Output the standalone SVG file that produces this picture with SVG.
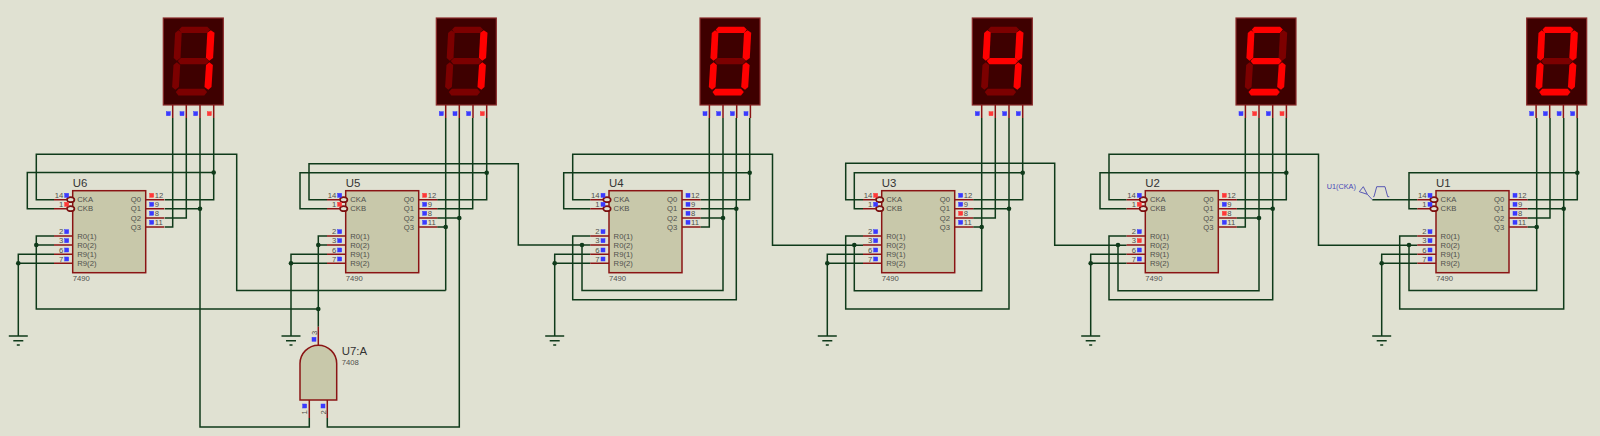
<svg xmlns="http://www.w3.org/2000/svg" width="1600" height="436" viewBox="0 0 1600 436">
<style>
text{font-family:"Liberation Sans",Arial,sans-serif;fill:#50504c}
.n{font-size:7.7px}
.e{text-anchor:end}
.l{font-size:11.4px;fill:#333}
.w{fill:none;stroke:#0f3a1a;stroke-width:1.5}
.j{fill:#0f3a1a}
.p{fill:none;stroke:#8a1414;stroke-width:1.5}
.b{fill:#c8c8aa;stroke:#8a1414;stroke-width:1.5}
.hi{fill:#ff3838;stroke:#ff3838;stroke-width:.5}
.lo{fill:#3a3aff;stroke:#3a3aff;stroke-width:.5}
.on{fill:#ff0000}
.of{fill:#7c0000}
.g{fill:none;stroke:#0f3a1a;stroke-width:1.5}
.gen{fill:none;stroke:#4a4ab0;stroke-width:.9}
</style>
<defs>
<g id="chip">
<path class="p" d="M-18.7 199.7H-6M-18.7 208.7H-6M-18.7 236H0M-18.7 245H0M-18.7 254.3H0M-18.7 263.3H0M73 199.7H91.5M73 208.7H91.5M73 218H91.5M73 227H91.5"/>
<rect class="b" x="0" y="190.7" width="73" height="82"/>
<ellipse cx="-2" cy="199.7" rx="3.7" ry="2.5" fill="#e0e1d2" stroke="#7a1010" stroke-width="1.7"/>
<ellipse cx="-2" cy="208.7" rx="3.7" ry="2.5" fill="#e0e1d2" stroke="#7a1010" stroke-width="1.7"/>
</g>
<g id="dbody">
<rect x="0" y="0" width="60" height="87" fill="#3e0000" stroke="#8a2a2a" stroke-width="1.2"/>
<path class="p" d="M9.4 87V100M23 87V100M36.7 87V100M50.4 87V100"/>
</g>
<polygon id="a" points="15.8,11.5 18.5,8.8 44,8.8 46.8,11.5 44,15 18,15"/>
<polygon id="g" points="14.5,43 17.5,40 43,40 45.8,43 43,46.2 17,46.2"/>
<polygon id="d" points="12.5,74 15.5,70.8 41,70.8 43.8,74 41,77.4 15,77.4"/>
<polygon id="f" points="11.8,15 15,12.2 18.4,14.5 17.2,40 13.5,42.8 10.4,40"/>
<polygon id="b" points="44,14.8 47.5,12.2 51.2,14.8 49.8,40 46,42.8 42.6,40"/>
<polygon id="e" points="10.2,47 13.5,44.2 16.9,47 15.6,69 12,71.8 8.8,69"/>
<polygon id="c" points="42.7,47 46,44.2 49.6,47 48.2,69 45,71.8 41.2,69"/>
<g id="gnd"><path class="g" d="M-9.5 0H9.5M-5 4.7H5M-1.5 9H1.5"/></g>
</defs>
<rect width="1600" height="436" fill="#e0e1d2"/>

<g id="connectors">
<path class="w" d="M164.7 199.7H213.7V118M54 208.7H27.3V172.5H213.7M54 199.7H36.3V154.3H236.7V290.5H445.7M164.7 208.7H200M200 118V427H309.3V418M164.7 218H186.3V118M164.7 227H172.7V118M54 236H36.3V309H318.3M54 245H36.3M54 254.3H18.3V336M54 263.3H18.3"/>
<path class="w" d="M327 236H318.3V326.7M327 245H318.3M327 254.3H291V336M327 263.3H291M327 199.7H309V163.7H518.3V245H590.3M327 208.7H300V172.7H486.7M437.2 199.7H486.7V118M437.2 208.7H472.7V118M437.2 218H459.3M459.3 118V427H327.3V418M437.2 227H445.7M445.7 118V290.5"/>
<path class="w" d="M590.3 199.7H572.7V154.3H772.5V245.3H863M590.3 208.7H563.7V172.7H749.7M700.5 199.7H749.7V118M700.5 208.7H736.3M736.3 118V299.7H572.7V236H590.3M700.5 218H723M723 118V290.5H582V245M700.5 227H709.3V118M590.3 254.3H554.7V336M590.3 263.3H554.7"/>
<path class="w" d="M863 199.7H845.7V163.3H1054.7V245.3H1126.6M863 208.7H854.3V172.7H1022.7M973.2 199.7H1022.7V118M973.2 208.7H1009M1009 118V309H845.7V236H863M973.2 218H995.3V118M973.2 227H981.7M981.7 118V290.7H854.3V245M863 254.3H827.3V336M863 263.3H827.3"/>
<path class="w" d="M1126.6 199.7H1109V154.3H1318.5V245.3H1417.3M1126.6 208.7H1100V172.7H1286.3M1236.8 199.7H1286.3V118M1236.8 208.7H1272.7M1272.7 118V299.7H1109V236H1126.6M1236.8 218H1259M1259 118V290.7H1118V245M1236.8 227H1245.3V118M1126.6 254.3H1090.7V336M1126.6 263.3H1090.7"/>
<path class="w" d="M1372.3 199.7H1417.3M1417.3 208.7H1409V172.7H1577.3M1527.5 199.7H1577.3V118M1527.5 208.7H1563.7M1563.7 118V309H1399.7V236H1417.3M1527.5 218H1550V118M1527.5 227H1536.7M1536.7 118V290.5H1409V245M1417.3 254.3H1381.7V336M1417.3 263.3H1381.7"/>
<g class="j">
<circle cx="213.7" cy="172.5" r="2.3"/><circle cx="200" cy="208.7" r="2.3"/><circle cx="36.3" cy="245" r="2.3"/><circle cx="18.3" cy="263.3" r="2.3"/><circle cx="318.3" cy="309" r="2.3"/>
<circle cx="486.7" cy="172.7" r="2.3"/><circle cx="459.3" cy="218" r="2.3"/><circle cx="445.7" cy="227" r="2.3"/><circle cx="318.3" cy="245" r="2.3"/><circle cx="291" cy="263.3" r="2.3"/>
<circle cx="749.7" cy="172.7" r="2.3"/><circle cx="736.3" cy="208.7" r="2.3"/><circle cx="723" cy="218" r="2.3"/><circle cx="582" cy="245" r="2.3"/><circle cx="554.7" cy="263.3" r="2.3"/>
<circle cx="1022.7" cy="172.7" r="2.3"/><circle cx="1009" cy="208.7" r="2.3"/><circle cx="981.7" cy="227" r="2.3"/><circle cx="854.3" cy="245" r="2.3"/><circle cx="827.3" cy="263.3" r="2.3"/>
<circle cx="1286.3" cy="172.7" r="2.3"/><circle cx="1272.7" cy="208.7" r="2.3"/><circle cx="1259" cy="218" r="2.3"/><circle cx="1118" cy="245" r="2.3"/><circle cx="1090.7" cy="263.3" r="2.3"/>
<circle cx="1577.3" cy="172.7" r="2.3"/><circle cx="1563.7" cy="208.7" r="2.3"/><circle cx="1536.7" cy="227" r="2.3"/><circle cx="1409" cy="245" r="2.3"/><circle cx="1381.7" cy="263.3" r="2.3"/>
</g>
</g>

<g id="grounds">
<use href="#gnd" x="18.3" y="336"/><use href="#gnd" x="291" y="336"/><use href="#gnd" x="554.7" y="336"/><use href="#gnd" x="827.3" y="336"/><use href="#gnd" x="1090.7" y="336"/><use href="#gnd" x="1381.7" y="336"/>
</g>

<g id="display-6" transform="translate(163.3 18)">
<use href="#dbody"/><use href="#a" class="of"/><use href="#f" class="of"/><use href="#b" class="on"/><use href="#g" class="of"/><use href="#e" class="of"/><use href="#c" class="on"/><use href="#d" class="of"/>
<rect class="lo" x="3" y="93.7" width="4" height="4"/><rect class="lo" x="16.7" y="93.7" width="4" height="4"/><rect class="lo" x="30.4" y="93.7" width="4" height="4"/><rect class="hi" x="44" y="93.7" width="4" height="4"/>
</g>
<g id="display-5" transform="translate(436.3 18)">
<use href="#dbody"/><use href="#a" class="of"/><use href="#f" class="of"/><use href="#b" class="on"/><use href="#g" class="of"/><use href="#e" class="of"/><use href="#c" class="on"/><use href="#d" class="of"/>
<rect class="lo" x="3" y="93.7" width="4" height="4"/><rect class="lo" x="16.7" y="93.7" width="4" height="4"/><rect class="lo" x="30.4" y="93.7" width="4" height="4"/><rect class="hi" x="44" y="93.7" width="4" height="4"/>
</g>
<g id="display-4" transform="translate(700 18)">
<use href="#dbody"/><use href="#a" class="on"/><use href="#f" class="on"/><use href="#b" class="on"/><use href="#g" class="of"/><use href="#e" class="on"/><use href="#c" class="on"/><use href="#d" class="on"/>
<rect class="lo" x="3" y="93.7" width="4" height="4"/><rect class="lo" x="16.7" y="93.7" width="4" height="4"/><rect class="lo" x="30.4" y="93.7" width="4" height="4"/><rect class="lo" x="44" y="93.7" width="4" height="4"/>
</g>
<g id="display-3" transform="translate(972.3 18)">
<use href="#dbody"/><use href="#a" class="of"/><use href="#f" class="on"/><use href="#b" class="on"/><use href="#g" class="on"/><use href="#e" class="of"/><use href="#c" class="on"/><use href="#d" class="of"/>
<rect class="lo" x="3" y="93.7" width="4" height="4"/><rect class="hi" x="16.7" y="93.7" width="4" height="4"/><rect class="lo" x="30.4" y="93.7" width="4" height="4"/><rect class="lo" x="44" y="93.7" width="4" height="4"/>
</g>
<g id="display-2" transform="translate(1236 18)">
<use href="#dbody"/><use href="#a" class="on"/><use href="#f" class="on"/><use href="#b" class="of"/><use href="#g" class="on"/><use href="#e" class="of"/><use href="#c" class="on"/><use href="#d" class="on"/>
<rect class="lo" x="3" y="93.7" width="4" height="4"/><rect class="hi" x="16.7" y="93.7" width="4" height="4"/><rect class="lo" x="30.4" y="93.7" width="4" height="4"/><rect class="hi" x="44" y="93.7" width="4" height="4"/>
</g>
<g id="display-1" transform="translate(1526.7 18)">
<use href="#dbody"/><use href="#a" class="on"/><use href="#f" class="on"/><use href="#b" class="on"/><use href="#g" class="of"/><use href="#e" class="on"/><use href="#c" class="on"/><use href="#d" class="on"/>
<rect class="lo" x="3" y="93.7" width="4" height="4"/><rect class="lo" x="16.7" y="93.7" width="4" height="4"/><rect class="lo" x="30.4" y="93.7" width="4" height="4"/><rect class="lo" x="44" y="93.7" width="4" height="4"/>
</g>

<g id="U6" transform="translate(72.7 0)">
<use href="#chip"/>
<text class="l" x="0" y="186.5">U6</text><text class="n" x="0" y="281">7490</text>
<g class="n"><text x="4.6" y="202.4">CKA</text><text x="4.6" y="211.4">CKB</text><text x="4.6" y="238.7">R0(1)</text><text x="4.6" y="247.7">R0(2)</text><text x="4.6" y="257">R9(1)</text><text x="4.6" y="266">R9(2)</text>
<text class="e" x="68.3" y="202.4">Q0</text><text class="e" x="68.3" y="211.4">Q1</text><text class="e" x="68.3" y="220.7">Q2</text><text class="e" x="68.3" y="229.7">Q3</text>
<text class="e" x="-9.4" y="198">14</text><text class="e" x="-9.4" y="207">1</text><text class="e" x="-9.4" y="234.4">2</text><text class="e" x="-9.4" y="243.4">3</text><text class="e" x="-9.4" y="252.7">6</text><text class="e" x="-9.4" y="261.7">7</text>
<text x="82" y="198">12</text><text x="82" y="207">9</text><text x="82" y="216">8</text><text x="82" y="225">11</text></g>
<rect class="lo" x="-8" y="193.3" width="4" height="4"/><rect class="hi" x="-8" y="202.3" width="4" height="4"/><rect class="lo" x="-8" y="229.7" width="4" height="4"/><rect class="lo" x="-8" y="238.7" width="4" height="4"/><rect class="lo" x="-8" y="248" width="4" height="4"/><rect class="lo" x="-8" y="257" width="4" height="4"/>
<rect class="hi" x="77" y="193.3" width="4" height="4"/><rect class="lo" x="77" y="202.3" width="4" height="4"/><rect class="lo" x="77" y="211.3" width="4" height="4"/><rect class="lo" x="77" y="220.3" width="4" height="4"/>
</g>

<g id="U5" transform="translate(345.7 0)">
<use href="#chip"/>
<text class="l" x="0" y="186.5">U5</text><text class="n" x="0" y="281">7490</text>
<g class="n"><text x="4.6" y="202.4">CKA</text><text x="4.6" y="211.4">CKB</text><text x="4.6" y="238.7">R0(1)</text><text x="4.6" y="247.7">R0(2)</text><text x="4.6" y="257">R9(1)</text><text x="4.6" y="266">R9(2)</text>
<text class="e" x="68.3" y="202.4">Q0</text><text class="e" x="68.3" y="211.4">Q1</text><text class="e" x="68.3" y="220.7">Q2</text><text class="e" x="68.3" y="229.7">Q3</text>
<text class="e" x="-9.4" y="198">14</text><text class="e" x="-9.4" y="207">1</text><text class="e" x="-9.4" y="234.4">2</text><text class="e" x="-9.4" y="243.4">3</text><text class="e" x="-9.4" y="252.7">6</text><text class="e" x="-9.4" y="261.7">7</text>
<text x="82" y="198">12</text><text x="82" y="207">9</text><text x="82" y="216">8</text><text x="82" y="225">11</text></g>
<rect class="lo" x="-8" y="193.3" width="4" height="4"/><rect class="hi" x="-8" y="202.3" width="4" height="4"/><rect class="lo" x="-8" y="229.7" width="4" height="4"/><rect class="lo" x="-8" y="238.7" width="4" height="4"/><rect class="lo" x="-8" y="248" width="4" height="4"/><rect class="lo" x="-8" y="257" width="4" height="4"/>
<rect class="hi" x="77" y="193.3" width="4" height="4"/><rect class="lo" x="77" y="202.3" width="4" height="4"/><rect class="lo" x="77" y="211.3" width="4" height="4"/><rect class="lo" x="77" y="220.3" width="4" height="4"/>
</g>

<g id="U4" transform="translate(609 0)">
<use href="#chip"/>
<text class="l" x="0" y="186.5">U4</text><text class="n" x="0" y="281">7490</text>
<g class="n"><text x="4.6" y="202.4">CKA</text><text x="4.6" y="211.4">CKB</text><text x="4.6" y="238.7">R0(1)</text><text x="4.6" y="247.7">R0(2)</text><text x="4.6" y="257">R9(1)</text><text x="4.6" y="266">R9(2)</text>
<text class="e" x="68.3" y="202.4">Q0</text><text class="e" x="68.3" y="211.4">Q1</text><text class="e" x="68.3" y="220.7">Q2</text><text class="e" x="68.3" y="229.7">Q3</text>
<text class="e" x="-9.4" y="198">14</text><text class="e" x="-9.4" y="207">1</text><text class="e" x="-9.4" y="234.4">2</text><text class="e" x="-9.4" y="243.4">3</text><text class="e" x="-9.4" y="252.7">6</text><text class="e" x="-9.4" y="261.7">7</text>
<text x="82" y="198">12</text><text x="82" y="207">9</text><text x="82" y="216">8</text><text x="82" y="225">11</text></g>
<rect class="lo" x="-8" y="193.3" width="4" height="4"/><rect class="lo" x="-8" y="202.3" width="4" height="4"/><rect class="lo" x="-8" y="229.7" width="4" height="4"/><rect class="lo" x="-8" y="238.7" width="4" height="4"/><rect class="lo" x="-8" y="248" width="4" height="4"/><rect class="lo" x="-8" y="257" width="4" height="4"/>
<rect class="lo" x="77" y="193.3" width="4" height="4"/><rect class="lo" x="77" y="202.3" width="4" height="4"/><rect class="lo" x="77" y="211.3" width="4" height="4"/><rect class="lo" x="77" y="220.3" width="4" height="4"/>
</g>

<g id="U3" transform="translate(881.7 0)">
<use href="#chip"/>
<text class="l" x="0" y="186.5">U3</text><text class="n" x="0" y="281">7490</text>
<g class="n"><text x="4.6" y="202.4">CKA</text><text x="4.6" y="211.4">CKB</text><text x="4.6" y="238.7">R0(1)</text><text x="4.6" y="247.7">R0(2)</text><text x="4.6" y="257">R9(1)</text><text x="4.6" y="266">R9(2)</text>
<text class="e" x="68.3" y="202.4">Q0</text><text class="e" x="68.3" y="211.4">Q1</text><text class="e" x="68.3" y="220.7">Q2</text><text class="e" x="68.3" y="229.7">Q3</text>
<text class="e" x="-9.4" y="198">14</text><text class="e" x="-9.4" y="207">1</text><text class="e" x="-9.4" y="234.4">2</text><text class="e" x="-9.4" y="243.4">3</text><text class="e" x="-9.4" y="252.7">6</text><text class="e" x="-9.4" y="261.7">7</text>
<text x="82" y="198">12</text><text x="82" y="207">9</text><text x="82" y="216">8</text><text x="82" y="225">11</text></g>
<rect class="hi" x="-8" y="193.3" width="4" height="4"/><rect class="lo" x="-8" y="202.3" width="4" height="4"/><rect class="lo" x="-8" y="229.7" width="4" height="4"/><rect class="lo" x="-8" y="238.7" width="4" height="4"/><rect class="lo" x="-8" y="248" width="4" height="4"/><rect class="lo" x="-8" y="257" width="4" height="4"/>
<rect class="lo" x="77" y="193.3" width="4" height="4"/><rect class="lo" x="77" y="202.3" width="4" height="4"/><rect class="hi" x="77" y="211.3" width="4" height="4"/><rect class="lo" x="77" y="220.3" width="4" height="4"/>
</g>

<g id="U2" transform="translate(1145.3 0)">
<use href="#chip"/>
<text class="l" x="0" y="186.5">U2</text><text class="n" x="0" y="281">7490</text>
<g class="n"><text x="4.6" y="202.4">CKA</text><text x="4.6" y="211.4">CKB</text><text x="4.6" y="238.7">R0(1)</text><text x="4.6" y="247.7">R0(2)</text><text x="4.6" y="257">R9(1)</text><text x="4.6" y="266">R9(2)</text>
<text class="e" x="68.3" y="202.4">Q0</text><text class="e" x="68.3" y="211.4">Q1</text><text class="e" x="68.3" y="220.7">Q2</text><text class="e" x="68.3" y="229.7">Q3</text>
<text class="e" x="-9.4" y="198">14</text><text class="e" x="-9.4" y="207">1</text><text class="e" x="-9.4" y="234.4">2</text><text class="e" x="-9.4" y="243.4">3</text><text class="e" x="-9.4" y="252.7">6</text><text class="e" x="-9.4" y="261.7">7</text>
<text x="82" y="198">12</text><text x="82" y="207">9</text><text x="82" y="216">8</text><text x="82" y="225">11</text></g>
<rect class="lo" x="-8" y="193.3" width="4" height="4"/><rect class="hi" x="-8" y="202.3" width="4" height="4"/><rect class="lo" x="-8" y="229.7" width="4" height="4"/><rect class="hi" x="-8" y="238.7" width="4" height="4"/><rect class="lo" x="-8" y="248" width="4" height="4"/><rect class="lo" x="-8" y="257" width="4" height="4"/>
<rect class="hi" x="77" y="193.3" width="4" height="4"/><rect class="lo" x="77" y="202.3" width="4" height="4"/><rect class="hi" x="77" y="211.3" width="4" height="4"/><rect class="lo" x="77" y="220.3" width="4" height="4"/>
</g>

<g id="U1" transform="translate(1436 0)">
<use href="#chip"/>
<text class="l" x="0" y="186.5">U1</text><text class="n" x="0" y="281">7490</text>
<g class="n"><text x="4.6" y="202.4">CKA</text><text x="4.6" y="211.4">CKB</text><text x="4.6" y="238.7">R0(1)</text><text x="4.6" y="247.7">R0(2)</text><text x="4.6" y="257">R9(1)</text><text x="4.6" y="266">R9(2)</text>
<text class="e" x="68.3" y="202.4">Q0</text><text class="e" x="68.3" y="211.4">Q1</text><text class="e" x="68.3" y="220.7">Q2</text><text class="e" x="68.3" y="229.7">Q3</text>
<text class="e" x="-9.4" y="198">14</text><text class="e" x="-9.4" y="207">1</text><text class="e" x="-9.4" y="234.4">2</text><text class="e" x="-9.4" y="243.4">3</text><text class="e" x="-9.4" y="252.7">6</text><text class="e" x="-9.4" y="261.7">7</text>
<text x="82" y="198">12</text><text x="82" y="207">9</text><text x="82" y="216">8</text><text x="82" y="225">11</text></g>
<rect class="lo" x="-8" y="193.3" width="4" height="4"/><rect class="lo" x="-8" y="202.3" width="4" height="4"/><rect class="lo" x="-8" y="229.7" width="4" height="4"/><rect class="lo" x="-8" y="238.7" width="4" height="4"/><rect class="lo" x="-8" y="248" width="4" height="4"/><rect class="lo" x="-8" y="257" width="4" height="4"/>
<rect class="lo" x="77" y="193.3" width="4" height="4"/><rect class="lo" x="77" y="202.3" width="4" height="4"/><rect class="lo" x="77" y="211.3" width="4" height="4"/><rect class="lo" x="77" y="220.3" width="4" height="4"/>
</g>

<g id="U7">
<path class="p" d="M318.3 345.3V326.7M309.3 400V418M327.3 400V418"/>
<path class="b" d="M300 400V363.6A18.35 18.35 0 0 1 336.7 363.6V400Z"/>
<rect class="lo" x="312" y="337.3" width="4" height="4"/><rect class="lo" x="302.7" y="404" width="4" height="4"/><rect class="lo" x="321" y="404" width="4" height="4"/>
<text class="n" transform="translate(316.5 335) rotate(-90)">3</text>
<text class="n" transform="translate(307.2 414.5) rotate(-90)">1</text>
<text class="n" transform="translate(325.5 414.5) rotate(-90)">2</text>
<text class="l" x="341.7" y="354.7">U7:A</text>
<text class="n" x="341.7" y="365">7408</text>
</g>

<g id="U1-CKA-generator">
<text x="1326.7" y="188.6" font-size="7.3" style="fill:#4a4ab8">U1(CKA)</text>
<path class="gen" d="M1372.3 199.7L1367.3 194.3L1363.3 186.7L1359.3 191.7L1367.3 194.3M1373.3 196.7H1374L1376.7 186.7H1385L1387.7 196.7H1389.3"/>
</g>
</svg>
